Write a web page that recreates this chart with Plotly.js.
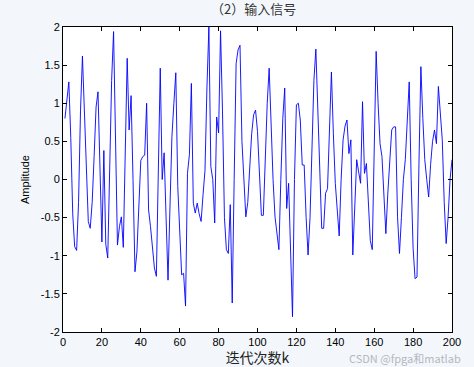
<!DOCTYPE html>
<html>
<head>
<meta charset="utf-8">
<script src="https://cdn.plot.ly/plotly-3.0.1.min.js"></script>
<style>html,body{margin:0;padding:0;background:#f3f7fb;}#chart{width:474px;height:367px;}</style>
</head>
<body>
<div id="chart"></div>
<script>
// Input signal samples, k = 1..200
const signal = [
 0.80, 1.05, 1.28, 0.55, -0.45, -0.88, -0.93, -0.30, 0.90, 1.62,
 0.85, 0.00, -0.55, -0.64, -0.30, 0.30, 0.95, 1.15, 0.10, -0.82,
 0.38, -0.85, -1.03, 0.20, 1.30, 1.94, 0.50, -0.86, -0.62, -0.49,
 -0.89, 0.60, 1.59, 0.65, 1.10, 0.00, -1.21, -0.95, -0.30, 0.25,
 0.30, 0.32, 1.00, -0.40, -0.62, -0.90, -1.16, -1.27, 0.30, 1.46,
 0.00, 0.35, -0.50, -1.32, -0.36, 0.56, 1.00, 1.40, -0.09, -0.80,
 -1.25, -1.23, -1.66, 0.08, 0.33, 1.26, -0.31, -0.44, -0.31, -0.45,
 -0.55, -0.20, 0.12, 1.20, 2.00, 0.17, 0.00, -0.57, 0.82, 0.61,
 1.95, 0.90, -0.50, -0.92, -0.97, -0.33, -1.62, 0.00, 1.52, 1.70,
 1.76, 0.50, -0.09, -0.49, -0.30, 0.20, 0.60, 0.85, 0.91, 0.63,
 0.00, -0.47, -0.47, 0.40, 1.00, 1.46, 0.70, 0.00, -0.49, -0.70,
 -0.92, 0.00, 0.80, 1.20, -0.38, -0.05, -1.00, -1.80, 0.00, 0.98,
 1.00, 0.78, 0.19, 0.19, -0.50, -0.99, -0.50, 0.60, 1.30, 1.71,
 0.87, 0.00, -0.64, -0.64, -0.18, -0.12, 0.70, 1.41, 0.60, -0.05,
 -0.40, -0.74, 0.00, 0.52, 0.70, 0.78, 0.34, 0.52, -0.99, -0.30,
 0.26, 0.10, -0.05, 1.02, 0.08, 0.21, -0.30, -0.80, -0.92, 0.50,
 1.68, 1.00, 0.47, 0.30, -0.20, -0.71, -0.18, 0.30, 0.65, 0.69,
 0.69, -0.49, -0.97, -0.50, 0.00, 0.26, 0.80, 1.28, 0.00, -0.90,
 -1.30, -1.28, 0.20, 1.48, 0.80, 0.26, 0.00, -0.23, 0.20, 0.50,
 0.65, 0.47, 1.22, 0.90, 0.52, -0.30, -0.84, -0.49, 0.00, 0.26
];
const kValues = signal.map((_, i) => i + 1);

const xTickVals = [0, 20, 40, 60, 80, 100, 120, 140, 160, 180, 200];
const xTickText = ['0', '20', '40', '60', '80', '100', '120', '140', '160', '180', '200'];
const yTickVals = [-2, -1.5, -1, -0.5, 0, 0.5, 1, 1.5, 2];
const yTickText = ['-2', '-1.5', '-1', '-0.5', '0', '0.5', '1', '1.5', '2'];

const titleText = '（2）输入信号';
const xTitle = '迭代次数k';
const yTitle = 'Amplitude';
const watermark = 'CSDN @fpga和matlab';

const trace = {
  x: kValues, y: signal, type: 'scatter', mode: 'lines',
  line: {color: '#0000ff', width: 0.9}, hoverinfo: 'skip'
};

const axisCommon = {
  showgrid: false, zeroline: false, showline: true, linecolor: '#000', linewidth: 1,
  mirror: 'ticks', ticks: 'inside', ticklen: 4, tickcolor: '#000', tickwidth: 1,
  tickfont: {family: 'Liberation Sans, Arial, sans-serif', size: 11, color: '#000'}
};

const layout = {
  width: 474, height: 367,
  margin: {l: 63, r: 22, t: 27, b: 35},
  paper_bgcolor: '#f3f7fb', plot_bgcolor: '#ffffff',
  showlegend: false,
  title: {text: titleText, x: 0.535, xanchor: 'center', y: 0.988, yanchor: 'top',
          font: {family: 'Noto Sans CJK SC, sans-serif', size: 13, color: '#333'}},
  xaxis: Object.assign({}, axisCommon, {
    range: [0, 200], tickmode: 'array', tickvals: xTickVals, ticktext: xTickText,
    title: {text: xTitle, standoff: 2, font: {family: 'Noto Sans CJK SC, sans-serif', size: 14, color: '#222'}}
  }),
  yaxis: Object.assign({}, axisCommon, {
    range: [-2, 2], tickmode: 'array', tickvals: yTickVals, ticktext: yTickText,
    title: {text: yTitle, standoff: 8, font: {family: 'Liberation Sans, Arial, sans-serif', size: 11, color: '#000'}}
  }),
  annotations: [{
    text: watermark, xref: 'paper', yref: 'paper', x: 1.028, y: -0.086,
    xanchor: 'right', yanchor: 'middle', showarrow: false,
    font: {family: 'Noto Sans CJK SC, sans-serif', size: 11, color: '#b4b8c0'}
  }]
};

Plotly.newPlot('chart', [trace], layout, {staticPlot: true, displayModeBar: false});
</script>
</body>
</html>
